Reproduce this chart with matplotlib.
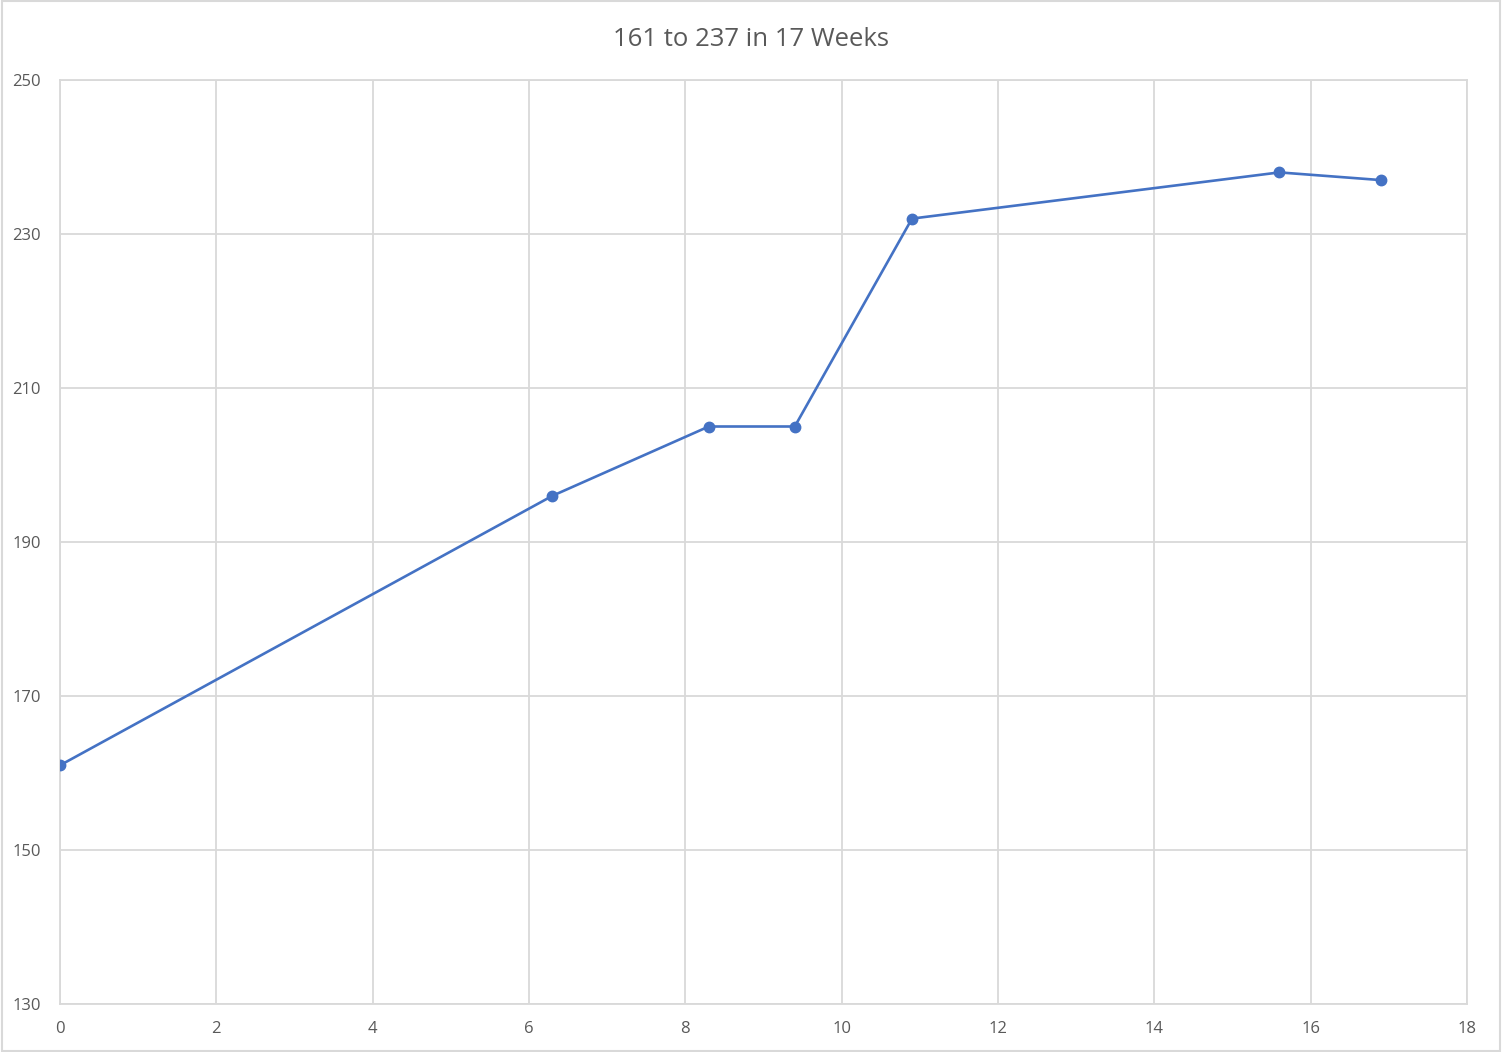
import matplotlib
matplotlib.use("Agg")
import matplotlib.pyplot as plt
from matplotlib.patches import Rectangle

weeks = [0, 6.3, 8.3, 9.4, 10.9, 15.6, 16.9]
weights = [161, 196, 205, 205, 232, 238, 237]
title = "161 to 237 in 17 Weeks"
xticks = list(range(0, 19, 2))
yticks = list(range(130, 251, 20))

plt.rcParams['font.family'] = ['Open Sans', 'DejaVu Sans']

fig = plt.figure(figsize=(15.02, 10.52), dpi=100)
ax = fig.add_axes([60/1502, 48/1052, 1407/1502, 924/1052])

ax.plot(weeks, weights, color='#4472C4', linewidth=1.9, marker='o',
        markersize=7.5, markerfacecolor='#4472C4', markeredgecolor='#4472C4', zorder=3)

ax.set_xlim(0, 18)
ax.set_ylim(130, 250)
ax.set_xticks(xticks)
ax.set_yticks(yticks)
ax.grid(True, color='#D9D9D9', linewidth=1.3)
ax.set_axisbelow(True)
for s in ax.spines.values():
    s.set_color('#D9D9D9')
    s.set_linewidth(1.3)
ax.tick_params(length=0, colors='#595959', labelsize=12)
ax.tick_params(axis='y', pad=14)
ax.tick_params(axis='x', pad=12)

fig.text(0.5, 1 - 39/1052, title, ha='center', va='center', fontsize=18.5, color='#595959')

fig.patches.append(Rectangle((0.001, 0.001), 0.998, 0.998, transform=fig.transFigure,
                             fill=False, edgecolor='#D9D9D9', linewidth=1.5))

fig.savefig("out.png", dpi=100)
